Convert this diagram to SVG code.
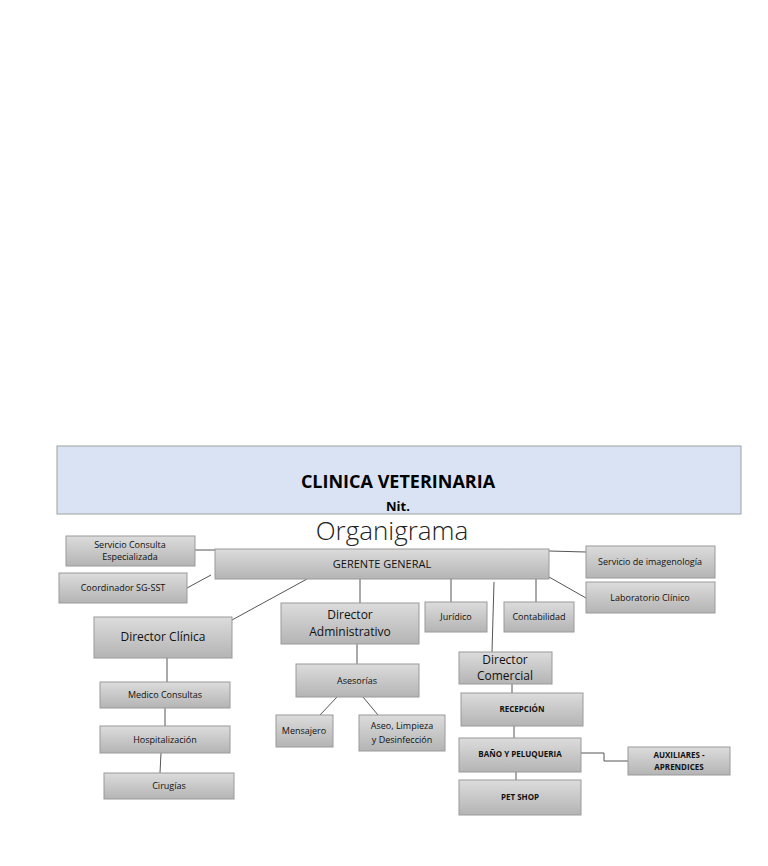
<svg xmlns="http://www.w3.org/2000/svg" width="768" height="866" viewBox="0 0 768 866">
<defs>
<linearGradient id="g" x1="0" y1="0" x2="0" y2="1"><stop offset="0" stop-color="#dcdcdc"/><stop offset="1" stop-color="#b4b4b4"/></linearGradient>
<style>
.n rect{fill:url(#g);stroke:#9a9a9a;stroke-width:1}
.n text{font-family:"Open Sans","Liberation Sans",sans-serif;fill:#111;text-anchor:middle}
.s{font-size:9px}.m{font-size:12px}.b{font-size:8px;font-weight:bold}.g{font-size:11px}
.c line,.c polyline{stroke:#555;stroke-width:1;fill:none}
</style>
</defs>
<rect width="768" height="866" fill="#fff"/>
<g id="banner">
<rect x="57" y="446" width="684" height="68" fill="#dae3f3" stroke="#a0a0a0"/>
<text x="398" y="488" font-family="'Open Sans','Liberation Sans',sans-serif" font-weight="bold" font-size="18" text-anchor="middle">CLINICA VETERINARIA</text>
<text x="398" y="511" font-family="'Open Sans','Liberation Sans',sans-serif" font-weight="bold" font-size="13" text-anchor="middle">Nit.</text>
<text x="392" y="540" font-family="'Open Sans','Liberation Sans',sans-serif" font-weight="300" font-size="26" text-anchor="middle" fill="#222">Organigrama</text>
</g>
<g class="c">
<line x1="195" y1="550" x2="215" y2="550" stroke="#999"/>
<line x1="187" y1="588" x2="211" y2="575"/>
<line x1="549" y1="551" x2="586" y2="552" stroke="#999"/>
<line x1="549" y1="577" x2="586" y2="598"/>
<line x1="307" y1="579" x2="232" y2="620"/>
<line x1="360" y1="579" x2="360" y2="603"/>
<line x1="451" y1="579" x2="451" y2="602"/>
<line x1="536" y1="579" x2="536" y2="602"/>
<line x1="494" y1="582" x2="492" y2="652"/>
<line x1="167" y1="658" x2="167" y2="682"/>
<line x1="165" y1="708" x2="165" y2="726"/>
<line x1="161" y1="753" x2="160" y2="773"/>
<line x1="357" y1="644" x2="357" y2="664"/>
<line x1="337" y1="697" x2="320" y2="715"/>
<line x1="363" y1="697" x2="378" y2="715"/>
<line x1="512" y1="684" x2="512" y2="693"/>
<line x1="514" y1="726" x2="514" y2="738"/>
<line x1="516" y1="772" x2="516" y2="780"/>
<polyline points="581,753 604,753 604,761 628,761" stroke="#222"/>
</g>
<g id="n1" class="n"><rect x="66" y="536" width="129" height="30"/><text class="s" x="130" y="548">Servicio Consulta</text><text class="s" x="130" y="560">Especializada</text></g>
<g id="n2" class="n"><rect x="215" y="549" width="334" height="30"/><text class="g" x="382" y="568">GERENTE GENERAL</text></g>
<g id="n3" class="n"><rect x="59" y="573" width="128" height="30"/><text class="s" x="123" y="591">Coordinador SG-SST</text></g>
<g id="n4" class="n"><rect x="586" y="546" width="129" height="32"/><text class="s" x="650" y="565">Servicio de imagenología</text></g>
<g id="n5" class="n"><rect x="586" y="582" width="129" height="31"/><text class="s" x="650" y="601">Laboratorio Clínico</text></g>
<g id="n6" class="n"><rect x="94" y="617" width="138" height="41"/><text class="m" x="163" y="641">Director Clínica</text></g>
<g id="n7" class="n"><rect x="281" y="603" width="138" height="41"/><text class="m" x="350" y="619">Director</text><text class="m" x="350" y="636">Administrativo</text></g>
<g id="n8" class="n"><rect x="425" y="602" width="62" height="30"/><text class="s" x="456" y="620">Jurídico</text></g>
<g id="n9" class="n"><rect x="504" y="602" width="70" height="30"/><text class="s" x="539" y="620">Contabilidad</text></g>
<g id="n10" class="n"><rect x="459" y="652" width="93" height="32"/><text class="m" x="505" y="664">Director</text><text class="m" x="505" y="680">Comercial</text></g>
<g id="n11" class="n"><rect x="100" y="682" width="130" height="26"/><text class="s" x="165" y="698">Medico Consultas</text></g>
<g id="n12" class="n"><rect x="296" y="664" width="123" height="33"/><text class="s" x="357" y="684">Asesorías</text></g>
<g id="n13" class="n"><rect x="461" y="693" width="122" height="33"/><text class="b" x="522" y="712">RECEPCIÓN</text></g>
<g id="n14" class="n"><rect x="276" y="715" width="57" height="32"/><text class="s" x="304" y="734">Mensajero</text></g>
<g id="n15" class="n"><rect x="359" y="715" width="86" height="36"/><text class="s" x="402" y="729">Aseo, Limpieza</text><text class="s" x="402" y="743">y Desinfección</text></g>
<g id="n16" class="n"><rect x="100" y="726" width="130" height="27"/><text class="s" x="165" y="743">Hospitalización</text></g>
<g id="n17" class="n"><rect x="459" y="738" width="122" height="34"/><text class="b" x="520" y="757">BAÑO Y PELUQUERIA</text></g>
<g id="n18" class="n"><rect x="628" y="747" width="102" height="28"/><text class="b" x="679" y="758">AUXILIARES -</text><text class="b" x="679" y="770">APRENDICES</text></g>
<g id="n19" class="n"><rect x="104" y="773" width="130" height="26"/><text class="s" x="169" y="789">Cirugías</text></g>
<g id="n20" class="n"><rect x="459" y="780" width="122" height="35"/><text class="b" x="520" y="800">PET SHOP</text></g>
</svg>
